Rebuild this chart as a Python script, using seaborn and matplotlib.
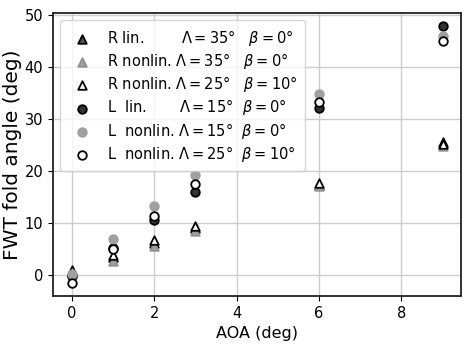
import matplotlib
matplotlib.use("Agg")
import matplotlib.pyplot as plt
import seaborn as sns
import pandas as pd

sns.set_style("ticks")
plt.rcParams['font.family'] = ['DejaVu Sans']
plt.rcParams['text.color'] = 'black'
plt.rcParams['axes.labelcolor'] = 'black'
plt.rcParams['xtick.color'] = 'black'
plt.rcParams['ytick.color'] = 'black'

aoa = [0, 1, 2, 3, 6, 9]
r_lin_35 = [0.6, 3.4, 6.2, 9.0, 17.3, 25.6]
r_nonlin_35 = [0.4, 2.7, 5.6, 8.5, 17.1, 24.8]
r_nonlin_25 = [1.0, 3.9, 6.7, 9.5, 17.6, 25.2]
l_lin_15 = [-0.2, 5.3, 10.6, 16.0, 32.0, 47.8]
l_nonlin_15 = [0.3, 7.0, 13.3, 19.3, 34.7, 45.8]
l_nonlin_25 = [-1.5, 5.0, 11.3, 17.5, 33.3, 45.0]

labels = [
    "R lin.        " + r"$\Lambda=35$°   $\beta=0$°",
    "R nonlin. " + r"$\Lambda=35$°   $\beta=0$°",
    "R nonlin. " + r"$\Lambda=25$°   $\beta=10$°",
    "L  lin.       " + r"$\Lambda=15$°  $\beta=0$°",
    "L  nonlin. " + r"$\Lambda=15$°  $\beta=0$°",
    "L  nonlin. " + r"$\Lambda=25$°  $\beta=10$°",
]
series = [r_lin_35, r_nonlin_35, r_nonlin_25, l_lin_15, l_nonlin_15, l_nonlin_25]
styles = [
    dict(marker="^", facecolor="#555555", edgecolor="black"),
    dict(marker="^", facecolor="#a0a0a0", edgecolor="#909090"),
    dict(marker="^", facecolor="white", edgecolor="black"),
    dict(marker="o", facecolor="#333333", edgecolor="black"),
    dict(marker="o", facecolor="#a0a0a0", edgecolor="#a0a0a0"),
    dict(marker="o", facecolor="white", edgecolor="black"),
]

fig = plt.figure(figsize=(4.74, 3.46), dpi=100)
ax = fig.add_axes([0.112, 0.145, 0.861, 0.817])
for vals, lab, st in zip(series, labels, styles):
    df = pd.DataFrame({"AOA": aoa, "angle": vals})
    sns.scatterplot(data=df, x="AOA", y="angle", ax=ax, marker=st["marker"],
                    color=st["facecolor"], edgecolor=st["edgecolor"],
                    linewidth=1.3, s=38, label=lab, zorder=3)

ax.grid(True, color="#cccccc", linewidth=1.0)
ax.set_axisbelow(True)
for sp in ax.spines.values():
    sp.set_visible(True)
    sp.set_color("#222222")
    sp.set_linewidth(1.3)
ax.set_xticks([0, 2, 4, 6, 8])
ax.set_yticks([0, 10, 20, 30, 40, 50])
ax.tick_params(labelsize=10.5, colors="black")
ax.set_xlabel("AOA (deg)", fontsize=11.5)
ax.set_ylabel("FWT fold angle (deg)", fontsize=14.5, labelpad=2)
ax.legend(loc="upper left", fontsize=10.5, frameon=True,
          handletextpad=0.7, labelspacing=0.22, borderpad=0.5, borderaxespad=0.5)
fig.savefig("out.png", dpi=100)
